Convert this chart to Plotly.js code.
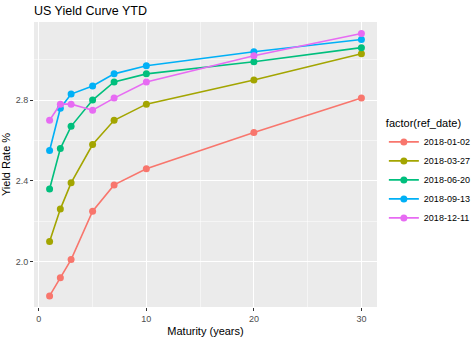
<!DOCTYPE html>
<html>
<head>
<meta charset="utf-8">
<script src="https://cdn.plot.ly/plotly-3.0.1.min.js"></script>
<style>html,body{margin:0;padding:0;background:#fff;}#chart{width:474px;height:338px;}</style>
</head>
<body>
<div id="chart"></div>
<script>
const maturity = [1, 2, 3, 5, 7, 10, 20, 30];
const refDates = ["2018-01-02", "2018-03-27", "2018-06-20", "2018-09-13", "2018-12-11"];
const yield_2018_01_02 = [1.83, 1.92, 2.01, 2.25, 2.38, 2.46, 2.64, 2.81];
const yield_2018_03_27 = [2.10, 2.26, 2.39, 2.58, 2.70, 2.78, 2.90, 3.03];
const yield_2018_06_20 = [2.36, 2.56, 2.67, 2.80, 2.89, 2.93, 2.99, 3.06];
const yield_2018_09_13 = [2.55, 2.76, 2.83, 2.87, 2.93, 2.97, 3.04, 3.10];
const yield_2018_12_11 = [2.70, 2.78, 2.78, 2.75, 2.81, 2.89, 3.02, 3.13];
const seriesValues = [yield_2018_01_02, yield_2018_03_27, yield_2018_06_20, yield_2018_09_13, yield_2018_12_11];
const colors = ["#F8766D", "#A3A500", "#00BF7D", "#00B0F6", "#E76BF3"];
const xTicks = [0, 10, 20, 30];
const yTicks = [2.0, 2.4, 2.8];
const yTickLabels = ["2.0", "2.4", "2.8"];

const traces = refDates.map((d, i) => ({
  type: "scatter",
  mode: "lines+markers",
  name: d,
  x: maturity,
  y: seriesValues[i],
  line: {color: colors[i], width: 1.6},
  marker: {color: colors[i], size: 7}
}));

const layout = {
  width: 474, height: 338,
  margin: {l: 34, r: 97, t: 22, b: 31, autoexpand: false},
  paper_bgcolor: "#ffffff",
  plot_bgcolor: "#EBEBEB",
  font: {family: "Liberation Sans, Arial, sans-serif", color: "#000"},
  title: {text: "US Yield Curve YTD", x: 34/474, xanchor: "left", y: 1 - 11/338, yanchor: "middle",
          font: {size: 12.5, color: "#000"}},
  xaxis: {
    range: [-0.45, 31.45], tickvals: xTicks, ticktext: xTicks.map(String),
    showgrid: true, gridcolor: "#FFFFFF", gridwidth: 1.1,
    minor: {tickvals: [5, 15, 25], showgrid: true, gridcolor: "#FFFFFF", gridwidth: 0.5, ticks: ""},
    ticks: "outside", ticklen: 3, tickcolor: "#333333", tickwidth: 1,
    tickfont: {size: 9, color: "#4D4D4D"},
    zeroline: false, showline: false,
    title: {text: "Maturity (years)", font: {size: 11, color: "#000"}, standoff: 4}
  },
  yaxis: {
    range: [1.775, 3.187], tickvals: yTicks, ticktext: yTickLabels,
    showgrid: true, gridcolor: "#FFFFFF", gridwidth: 1.1,
    minor: {tickvals: [2.2, 2.6, 3.0], showgrid: true, gridcolor: "#FFFFFF", gridwidth: 0.5, ticks: ""},
    ticks: "outside", ticklen: 3, tickcolor: "#333333", tickwidth: 1,
    tickfont: {size: 9, color: "#4D4D4D"},
    zeroline: false, showline: false,
    title: {text: "Yield Rate %", font: {size: 11, color: "#000"}, standoff: 2}
  },
  showlegend: true,
  legend: {
    x: 1.02, xanchor: "left", y: (306.7 - 113) / 284.7, yanchor: "top",
    bgcolor: "rgba(0,0,0,0)",
    title: {text: "factor(ref_date)", font: {size: 11, color: "#000"}},
    font: {size: 9, color: "#000"},
    tracegroupgap: 0, itemwidth: 30
  }
};

Plotly.newPlot("chart", traces, layout, {displayModeBar: false, staticPlot: true});
</script>
</body>
</html>
